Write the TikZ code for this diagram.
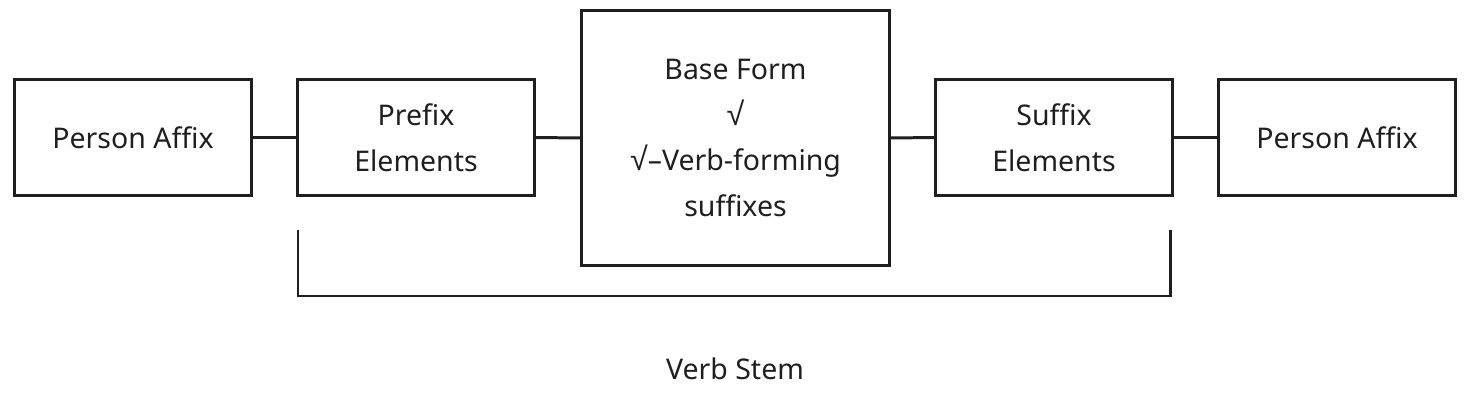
\documentclass[tikz,border=0pt]{standalone}
\usepackage{fontspec}
\setmainfont{Noto Sans}
\newfontfamily\symfont{Liberation Sans}
\newcommand{\rootsign}{{\symfont\fontsize{9.2}{13}\selectfont √}}
\begin{document}
\begin{tikzpicture}[x=0.01cm,y=-0.01cm,
  box/.style={draw=black!88,line width=0.85pt,minimum width=2.36cm,minimum height=1.15cm,inner sep=0pt,align=center,font=\fontsize{8.1}{13}\selectfont,text=black!88},
  link/.style={draw=black!88,line width=0.85pt},
  lbl/.style={font=\fontsize{8.1}{13}\selectfont,text=black!88}]
\useasboundingbox (0,0) rectangle (1475,409);
\node[box] (pa1) at (133,137.5) {Person Affix};
\node[box] (pre) at (416,137.5) {Prefix\\Elements};
\node[box,minimum width=3.07cm,minimum height=2.54cm] (base) at (735.5,138) {Base Form\\\rootsign\\\rootsign–Verb-forming\\suffixes};
\node[box] (suf) at (1054,137.5) {Suffix\\Elements};
\node[box] (pa2) at (1337,137.5) {Person Affix};
\draw[link] (pa1.east) -- (pre.west);
\draw[link] (pre.east) -- (base.west);
\draw[link] (base.east) -- (suf.west);
\draw[link] (suf.east) -- (pa2.west);
\coordinate (bl) at (298,230);
\coordinate (br) at (1170,230);
\draw[link] (bl) -- (298,296) -- (1170,296) -- (br);
\node[lbl] (vs) at (735,369) {Verb Stem};
\end{tikzpicture}
\end{document}
